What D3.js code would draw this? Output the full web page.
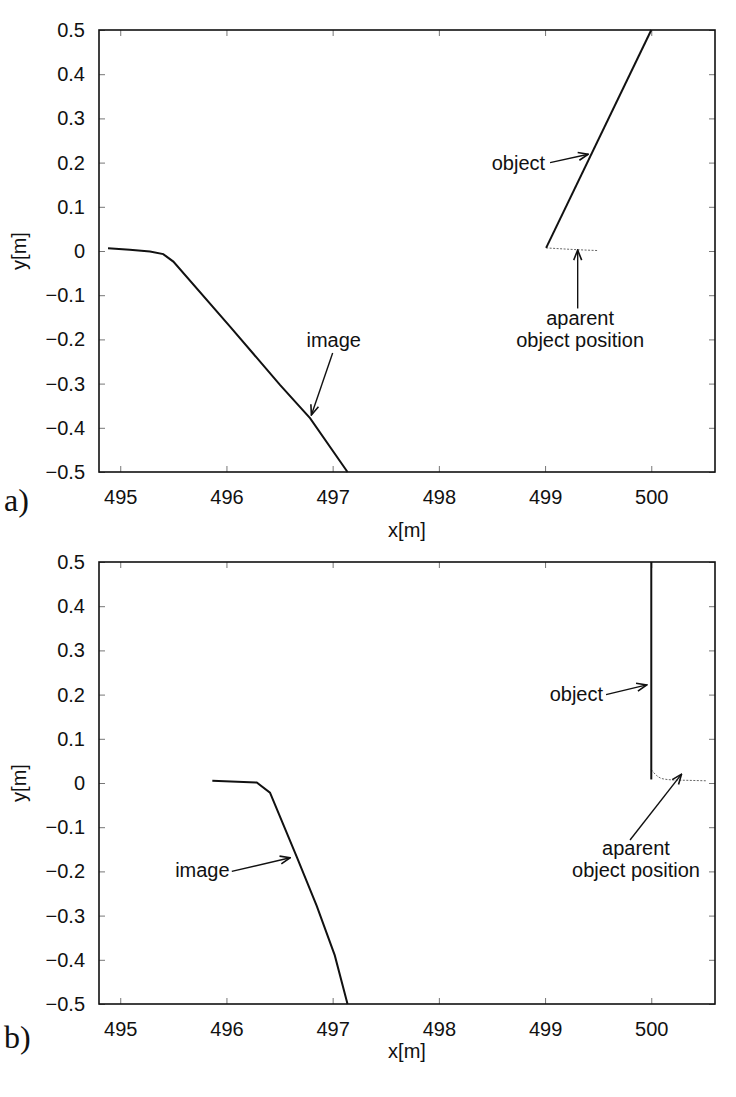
<!DOCTYPE html>
<html>
<head>
<meta charset="utf-8">
<script src="https://cdn.jsdelivr.net/npm/d3@7"></script>
<style>
body { margin: 0; background: #fff; }
</style>
</head>
<body>
<div id="chart"></div>
<script>
// axis ticks
const xTicks = [495, 496, 497, 498, 499, 500];
const yTicks = [0.5, 0.4, 0.3, 0.2, 0.1, 0, -0.1, -0.2, -0.3, -0.4, -0.5];

// panel a) curves, [x, y] in metres
const imageA = [[494.885, 0.006], [495.09, 0.003], [495.28, -0.001], [495.405, -0.007], [495.5, -0.024],
                [496.034, -0.171], [496.504, -0.303], [496.787, -0.378], [497.14, -0.5]];
const objectA = [[499.01, 0.007], [500.0, 0.5]];
const apparentA = [[499.01, 0.007], [499.15, 0.005], [499.3, 0.003], [499.5, 0.001]];

// panel b) curves
const imageB = [[495.867, 0.005], [496.285, 0.001], [496.41, -0.022], [496.662, -0.167],
                [496.85, -0.278], [497.02, -0.39], [497.14, -0.5]];
const objectB = [[500.0, 0.008], [500.0, 0.5]];
const apparentB = [[500.0, 0.03], [500.05, 0.017], [500.1, 0.01], [500.2, 0.007], [500.35, 0.006], [500.52, 0.005]];

// annotations: text anchor point and arrow (from -> to), data units
const notesA = [
    { lines: ["object"], x: 499.0, y: 0.183, anchor: "end", arrow: [499.047, 0.2, 499.407, 0.219] },
    { lines: ["image"], x: 497.01, y: -0.217, anchor: "middle", arrow: [497.0, -0.231, 496.80, -0.371] },
    { lines: ["aparent", "object position"], x: 499.33, y: -0.167, anchor: "middle", arrow: [499.307, -0.13, 499.307, 0.002] }
];
const notesB = [
    { lines: ["object"], x: 499.546, y: 0.185, anchor: "end", arrow: [499.574, 0.2, 499.957, 0.222] },
    { lines: ["image"], x: 496.03, y: -0.213, anchor: "end", arrow: [496.05, -0.2, 496.6, -0.169] },
    { lines: ["aparent", "object position"], x: 499.856, y: -0.163, anchor: "middle", arrow: [499.80, -0.129, 500.285, 0.02] }
];

const xDomain = [494.8, 500.6];
const yDomain = [-0.5, 0.5];

let svg = d3.select("#chart")
            .append("svg")
            .attr("width", 736)
            .attr("height", 1097)
            .style("font-family", "'Liberation Sans', Arial, sans-serif")

let defs = svg.append("defs")
defs.append("marker")
    .attr("id", "head")
    .attr("viewBox", "0 0 12 10")
    .attr("refX", 11)
    .attr("refY", 5)
    .attr("markerWidth", 12)
    .attr("markerHeight", 10)
    .attr("markerUnits", "userSpaceOnUse")
    .attr("orient", "auto")
    .append("path")
    .attr("d", "M1,1 L11,5 L1,9")
    .attr("fill", "none")
    .attr("stroke", "#111")
    .attr("stroke-width", 1.6)

function drawPanel(cfg){
    let { top, left, width, height, image, object, apparent, notes, tag, tagY, xLabelY } = cfg;
    let xScale = d3.scaleLinear().domain(xDomain).range([0, width]);
    let yScale = d3.scaleLinear().domain(yDomain).range([height, 0]);
    let g = svg.append("g").attr("transform", "translate(" + [left, top] + ")");

    let fmt = d => d === 0 ? "0" : d3.format(".1f")(d);

    // inward ticks on all four sides
    let axes = [
        { axis: d3.axisBottom(xScale).tickValues(xTicks).tickFormat(d3.format("d")), t: [0, height], pad: 18, labels: true },
        { axis: d3.axisTop(xScale).tickValues(xTicks), t: [0, 0], pad: 14, labels: false },
        { axis: d3.axisLeft(yScale).tickValues(yTicks).tickFormat(fmt), t: [0, 0], pad: 14, labels: true },
        { axis: d3.axisRight(yScale).tickValues(yTicks), t: [width, 0], pad: 14, labels: false }
    ];
    axes.forEach(a => {
        let ax = g.append("g")
                  .attr("transform", "translate(" + a.t + ")")
                  .call(a.axis.tickSizeInner(-6).tickSizeOuter(0).tickPadding(a.pad))
        ax.select(".domain").remove()
        ax.selectAll("line").attr("stroke", "#777").attr("stroke-width", 1)
        ax.selectAll("text")
          .style("font-size", "20px")
          .style("font-family", "'Liberation Sans', Arial, sans-serif")
          .attr("fill", "#111")
          .style("display", a.labels ? null : "none")
    })

    // frame
    g.append("rect")
     .attr("width", width)
     .attr("height", height)
     .attr("fill", "none")
     .attr("stroke", "#111")
     .attr("stroke-width", 1.6)

    let line = d3.line().x(d => xScale(d[0])).y(d => yScale(d[1]));

    g.append("path")
     .datum(apparent)
     .attr("d", line.curve(d3.curveMonotoneX))
     .attr("fill", "none")
     .attr("stroke", "#666")
     .attr("stroke-width", 1)
     .attr("stroke-dasharray", "2,1.5")

    line.curve(d3.curveLinear)
    g.append("path")
     .datum(image)
     .attr("d", line)
     .attr("fill", "none")
     .attr("stroke", "#111")
     .attr("stroke-width", 2)

    g.append("path")
     .datum(object)
     .attr("d", line)
     .attr("fill", "none")
     .attr("stroke", "#111")
     .attr("stroke-width", 2)

    // annotations
    notes.forEach(n => {
        let t = g.append("text")
                 .attr("x", xScale(n.x))
                 .attr("y", yScale(n.y))
                 .attr("text-anchor", n.anchor)
                 .style("font-size", "20px")
                 .attr("fill", "#111")
        n.lines.forEach((s, i) => {
            t.append("tspan")
             .attr("x", xScale(n.x))
             .attr("dy", i === 0 ? 0 : 22)
             .text(s)
        })
        g.append("line")
         .attr("x1", xScale(n.arrow[0]))
         .attr("y1", yScale(n.arrow[1]))
         .attr("x2", xScale(n.arrow[2]))
         .attr("y2", yScale(n.arrow[3]))
         .attr("stroke", "#111")
         .attr("stroke-width", 1.4)
         .attr("marker-end", "url(#head)")
    })

    // axis titles
    g.append("text")
     .attr("x", width / 2)
     .attr("y", xLabelY - top)
     .attr("text-anchor", "middle")
     .style("font-size", "20px")
     .attr("fill", "#111")
     .text("x[m]")

    g.append("text")
     .attr("transform", "translate(" + [26 - left, height / 2] + ") rotate(-90)")
     .attr("text-anchor", "middle")
     .style("font-size", "20px")
     .attr("fill", "#111")
     .text("y[m]")

    svg.append("text")
       .attr("x", 4)
       .attr("y", tagY)
       .style("font-family", "'Liberation Serif', 'Times New Roman', serif")
       .style("font-size", "32px")
       .attr("fill", "#111")
       .text(tag)
}

drawPanel({ top: 30, left: 99, width: 616, height: 442, image: imageA, object: objectA, apparent: apparentA,
            notes: notesA, tag: "a)", tagY: 511, xLabelY: 537 });
drawPanel({ top: 562, left: 99, width: 616, height: 442, image: imageB, object: objectB, apparent: apparentB,
            notes: notesB, tag: "b)", tagY: 1048, xLabelY: 1058 });
</script>
</body>
</html>
